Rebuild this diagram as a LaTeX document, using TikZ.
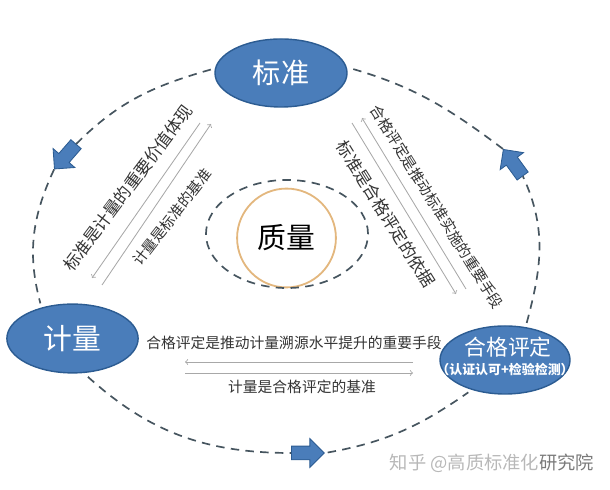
\documentclass[tikz,border=0pt]{standalone}
\usepackage{fontspec}
\setmainfont{Noto Sans CJK SC}
\usetikzlibrary{arrows,shapes.geometric,shapes.arrows}
\definecolor{nodeblue}{HTML}{4A7DBA}
\definecolor{nodeline}{HTML}{2C5C92}
\definecolor{dashgrey}{HTML}{46555F}
\definecolor{thingrey}{HTML}{A8A8A8}
\definecolor{ringorange}{HTML}{E3B77E}
\tikzset{
  field/.style={ellipse,draw=nodeline,fill=nodeblue,line width=1pt,text=white,inner sep=0pt},
  blockarrow/.style={single arrow,draw=nodeline,fill=nodeblue,line width=.6pt,inner sep=.16cm,
    minimum height=.82cm,single arrow head extend=.19cm},
  cycle line/.style={dashgrey,line width=1.2pt,dash pattern=on 6pt off 4.5pt},
  thin arrow/.style={thingrey,line width=.6pt,->},
  remark/.style={font=\fontsize{10.5}{13}\selectfont,text=black!80,inner sep=0pt}
}
\begin{document}
\begin{tikzpicture}[x=.025cm,y=.025cm]
  \useasboundingbox (0,0) rectangle (610,490);

  \node[field,minimum width=3.3cm,minimum height=1.7cm,font=\fontsize{20}{24}\selectfont] (bz) at (281,417) {标准};
  \node[field,minimum width=3.28cm,minimum height=1.72cm,font=\fontsize{20.5}{25}\selectfont] (jl) at (72.5,151.5) {计量};
  \node[field,minimum width=3.25cm,minimum height=1.7cm] (hg) at (505,130) {};
  \node[text=white,inner sep=0pt,font=\fontsize{15.5}{18}\selectfont] (hgtop) at (508,143) {合格评定};
  \node[text=white,inner sep=0pt,font=\fontsize{9.2}{10}\selectfont\bfseries] (hgsub) at (505,120) {（认证认可+检验检测）};

  \node[circle,draw=ringorange,line width=1.3pt,minimum size=2.47cm,inner sep=0pt,font=\fontsize{20.5}{24}\selectfont] (zl) at (286.5,252) {质量};
  \node[ellipse,draw=dashgrey,line width=1.2pt,dash pattern=on 6pt off 4.5pt,minimum width=4.05cm,minimum height=2.7cm] (zlring) at (287,256) {};

  \node[blockarrow,rotate=229] (arrL) at (67.5,336) {};
  \node[blockarrow,rotate=126] (arrR) at (515,324.5) {};
  \node[blockarrow] (arrB) at (304.5,37) {};

  \draw[cycle line,shorten <=3pt] (bz.176) to[out=196,in=45] (arrL.tail);
  \draw[cycle line,shorten >=3pt] (arrL.tip) to[out=245,in=105] (jl.135);
  \draw[cycle line,shorten <=4pt] (jl.-72) to[out=-42,in=180] (arrB.tail);
  \draw[cycle line,shorten <=2pt,shorten >=3pt] (arrB.tip) to[out=10,in=215] (hg.222);
  \draw[cycle line,shorten <=3pt] (hg.58) to[out=75,in=-65] (arrR.tail);
  \draw[cycle line,shorten >=3pt] (arrR.tip) to[out=143,in=-16] (bz.5);

  \coordinate (la) at (200,367); \coordinate (lb) at (92,212);
  \coordinate (lc) at (102,205); \coordinate (ld) at (211,366);
  \draw[thin arrow] (la) -- (lb);
  \draw[thin arrow] (lc) -- (ld);
  \coordinate (ra) at (466,201); \coordinate (rb) at (362,372);
  \coordinate (rc) at (352,367); \coordinate (rd) at (456,196);
  \draw[thin arrow] (ra) -- (rb);
  \draw[thin arrow] (rc) -- (rd);
  \coordinate (ba) at (413,128); \coordinate (bb) at (185,128);
  \coordinate (bc) at (185,117); \coordinate (bd) at (413,117);
  \draw[thin arrow] (ba) -- (bb);
  \draw[thin arrow] (bc) -- (bd);

  \node[remark,rotate=53,font=\fontsize{12}{14}\selectfont] (tl1) at (128,302) {标准是计量的重要价值体现};
  \node[remark,rotate=52] (tl2) at (172,273) {计量是标准的基准};
  \node[remark,rotate=-58] (tr1) at (437,283) {合格评定是推动标准实施的重要手段};
  \node[remark,rotate=-58,font=\fontsize{12}{14}\selectfont] (tr2) at (386,276) {标准是合格评定的依据};
  \node[remark] (tb1) at (294,147) {合格评定是推动计量溯源水平提升的重要手段};
  \node[remark] (tb2) at (302,103) {计量是合格评定的基准};

  \node[inner sep=0pt,font=\fontsize{13}{15}\selectfont] (mark) at (492,27) {\textcolor{black!28}{知乎 @高质标准化}\textcolor{black!52}{研究院}};
\end{tikzpicture}
\end{document}
